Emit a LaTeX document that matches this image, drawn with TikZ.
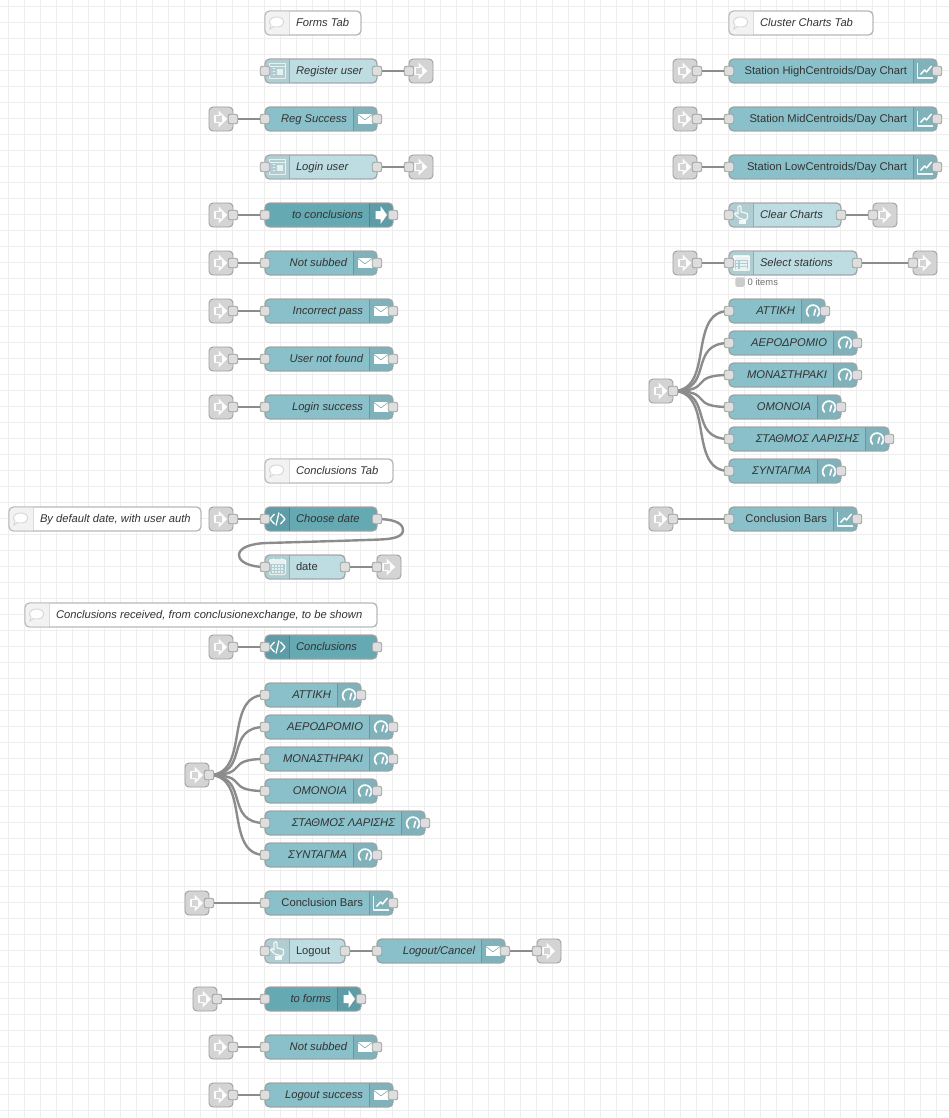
\documentclass[tikz,border=0pt]{standalone}
\usepackage{fontspec}
\setmainfont{Liberation Sans}
\usetikzlibrary{backgrounds}
\definecolor{cmid}{HTML}{8AC0C9}
\definecolor{clight}{HTML}{BDDDE2}
\definecolor{cdark}{HTML}{65A9B3}
\definecolor{cgrid}{HTML}{EEEEEE}
\definecolor{cwire}{HTML}{8C8C8C}
\definecolor{cstroke}{HTML}{A0A0A0}
\definecolor{ctext}{HTML}{333333}
\tikzset{
  x=1pt,y=-1pt,
  boxshape/.style={draw=cstroke,line width=0.9pt,rounded corners=4.5pt,inner sep=0pt,outer sep=0pt,minimum height=24pt},
  portbox/.style={draw=cstroke,fill=black!13,line width=0.9pt,rounded corners=2.2pt,inner sep=0pt,outer sep=0pt,minimum width=9.5pt,minimum height=9.5pt},
  linkbox/.style={draw=black!38,fill=black!17,line width=0.9pt,rounded corners=4pt,inner sep=0pt,outer sep=0pt,minimum width=24pt,minimum height=24pt},
  notebox/.style={draw=black!30,fill=white,line width=0.9pt,rounded corners=4.5pt,inner sep=0pt,outer sep=0pt,minimum height=24pt},
  labeltext/.style={inner sep=0pt,outer sep=0pt,text=ctext,font=\fontsize{11.2}{13}\selectfont},
  wirepath/.style={draw=cwire,line width=2.4pt,line cap=round},
  wirestyle/.style={wirepath},
  icn/.style={white,line width=1pt,line join=round}
}
% icons: drawn around the origin of a shifted scope
\newcommand\icenv{\fill[white] (-7.5,-5.3) rectangle (7.5,5.3);\draw[cmid!88!black,line width=.6pt] (-7.5,-4.8) -- (0,.8) -- (7.5,-4.8);}
\newcommand\icarrow{\fill[white] (-5.5,-4) -- (-.5,-4) -- (-.5,-9) -- (6,0) -- (-.5,9) -- (-.5,4) -- (-5.5,4) -- cycle;}
\newcommand\icgauge{\draw[icn,line width=1.7pt,line cap=round] (-4.5,5) arc (135:405:6.4);\draw[icn,line width=1.6pt] (2.6,-2.2) -- (.9,4.5);}
\newcommand\icchart{\draw[icn,white!85!cmid,line width=1.1pt] (-7.5,-7.5) -- (-7.5,7) -- (8,7);\draw[icn,line width=1.5pt] (-4.5,3.5) -- (-.5,-1) -- (1.5,1) -- (6.5,-5);}
\newcommand\iccode{\draw[icn,line width=1.3pt] (-3,-5) -- (-7.5,0) -- (-3,5) (3,-5) -- (7.5,0) -- (3,5) (1.5,-6.5) -- (-1.5,6.5);}
\newcommand\icform{\begin{scope}[opacity=.7]\draw[icn] (-8,-7.5) rectangle (8,7.5) (-8,-4) -- (8,-4);\fill[white] (-1,-2) rectangle (5,4);\draw[icn] (-5,-2) -- (-2.5,-2) (-5,1) -- (-2.5,1) (-5,4) -- (-2.5,4);\end{scope}}
\newcommand\iccal{\begin{scope}[opacity=.7]\draw[icn,rounded corners=1pt] (-8,-7.5) rectangle (8,7.5);\fill[white] (-8,-7.5) rectangle (8,-3.5);\draw[icn] (-4,-9.5) -- (-4,-7) (4,-9.5) -- (4,-7);\foreach \ia in {-4.5,-1.5,1.5,4.5}\foreach \ib in {-1,2,5}\fill[white] (\ia-.7,\ib-.7) rectangle (\ia+.7,\ib+.7);\end{scope}}
\newcommand\iclist{\begin{scope}[opacity=.75]\draw[icn,line width=1.1pt] (-7.5,-7) rectangle (7.5,7);\fill[white] (-7.5,-7) rectangle (7.5,-3.5);\foreach \ib in {-1,2,5}{\fill[white] (-5.5,\ib-.7) rectangle (-3.5,\ib+.7);\fill[white] (-2,\ib-.7) rectangle (5.5,\ib+.7);}\end{scope}}
\newcommand\ichand{\begin{scope}[opacity=.85]\draw[icn,line width=1.2pt] (-2.5,3) -- (-7,-1) -- (-5.5,-2.5) -- (-3.5,-1) -- (-3.5,-8) .. controls (-3,-10) and (-.5,-10) .. (-.5,-8) -- (-.5,-3) -- (6,-1.5) -- (6,3) -- (4,5) -- cycle;\fill[white] (-2.5,5) rectangle (4.5,8.5);\end{scope}}
\newcommand\iclink{\begin{scope}[opacity=.95]\draw[icn,line width=1.2pt] (-1,-3.5) -- (-6,-3.5) -- (-6,3.5) -- (-1,3.5);\fill[white] (-2.5,-3.5) -- (-2.5,-8.5) -- (6,0) -- (-2.5,8.5) -- (-2.5,3.5) -- (1,3.5) -- (1,-3.5) -- cycle;\end{scope}}
\newcommand\icnote{\draw[draw=black!16,fill=white,line width=.9pt] (0,-6) .. controls (9,-6) and (9,4) .. (0,4) .. controls (-1.5,4) and (-3,4) .. (-4,3.6) -- (-7,6) -- (-6,2) .. controls (-9.5,-1) and (-7,-6) .. (0,-6) -- cycle;}

% \flownode{id}{xl}{xr}{y}{fill}{side L/R}{icon}{label}
\newcommand\flownode[8]{%
  \pgfmathsetmacro\nw{#3-#2}\pgfmathsetmacro\nc{(#2+#3)/2}%
  \node[boxshape,fill=#5,minimum width=\nw pt] (#1) at (\nc,#4) {};
  \begin{scope}
    \clip[rounded corners=4.5pt] (#2,#4-12) rectangle (#3,#4+12);
    \if#6L\pgfmathsetmacro\ba{#2}\pgfmathsetmacro\bb{#2+24}\else\pgfmathsetmacro\ba{#3-24}\pgfmathsetmacro\bb{#3}\fi
    \fill[#5!93!black] (\ba,#4-12) rectangle (\bb,#4+12);
    \if#6L\draw[#5!78!black,line width=.7pt] (\bb,#4-12) -- (\bb,#4+12);\else\draw[#5!78!black,line width=.7pt] (\ba,#4-12) -- (\ba,#4+12);\fi
  \end{scope}
  \draw[draw=cstroke,line width=0.9pt,rounded corners=4.5pt] (#2,#4-12) rectangle (#3,#4+12);
  \if#6L\pgfmathsetmacro\icx{#2+12.5}\else\pgfmathsetmacro\icx{#3-12}\fi
  \begin{scope}[shift={(\icx,#4)}]#7\end{scope}
  \pgfmathsetmacro\tpy{#4+3.9}%
  \if#6L\pgfmathsetmacro\tpx{#2+31}\node[labeltext,anchor=base west] (#1-t) at (\tpx,\tpy) {\itshape #8};
  \else\pgfmathsetmacro\tpx{#3-30}\node[labeltext,anchor=base east] (#1-t) at (\tpx,\tpy) {\itshape #8};\fi
  \node[portbox] (#1-i) at (#2,#4) {};
  \node[portbox] (#1-o) at (#3,#4) {};
}
\newcommand\linknode[4]{% id, xl, y, side of port (i/o)
  \pgfmathsetmacro\nc{#2+12}%
  \node[linkbox] (#1) at (\nc,#3) {};
  \begin{scope}[shift={(\nc,#3)}]\iclink\end{scope}
  \if#4o\pgfmathsetmacro\px{#2+24}\else\pgfmathsetmacro\px{#2}\fi
  \node[portbox] (#1-#4) at (\px,#3) {};
}
\newcommand\notenode[5]{% id, xl, xr, y, text
  \pgfmathsetmacro\nw{#3-#2}\pgfmathsetmacro\nc{(#2+#3)/2}%
  \node[notebox,minimum width=\nw pt] (#1) at (\nc,#4) {};
  \begin{scope}
    \clip[rounded corners=4.5pt] (#2,#4-12) rectangle (#3,#4+12);
    \fill[black!5] (#2,#4-12) rectangle (#2+24,#4+12);
    \draw[black!14,line width=.7pt] (#2+24,#4-12) -- (#2+24,#4+12);
  \end{scope}
  \draw[draw=black!30,line width=0.9pt,rounded corners=4.5pt] (#2,#4-12) rectangle (#3,#4+12);
  \pgfmathsetmacro\icx{#2+12}\begin{scope}[shift={(\icx,#4)}]\icnote\end{scope}
  \pgfmathsetmacro\tpx{#2+31}\pgfmathsetmacro\tpy{#4+3.9}\node[labeltext,anchor=base west] (#1-t) at (\tpx,\tpy) {\itshape #5};
}
\newcommand\wire[2]{\begin{scope}[on background layer]\draw[wirestyle] (#1.center) -- (#2.center);\end{scope}}
\newcommand\fan[2]{\begin{scope}[on background layer]\draw[wirestyle] (#1.center) .. controls +(42,0) and +(-42,0) .. (#2.center);\end{scope}}
\begin{document}
\begin{tikzpicture}
\useasboundingbox (0,0) rectangle (949,1118);
\begin{scope}[on background layer]
  \fill[white] (0,0) rectangle (949,1118);
  \foreach \k in {0,...,59}{\draw[cgrid,line width=.9pt] (8.5+16*\k,0) -- (8.5+16*\k,1118);}
  \foreach \k in {0,...,69}{\draw[cgrid,line width=.9pt] (0,6.6+16*\k) -- (949,6.6+16*\k);}
\end{scope}

% ---- left column
\notenode{nForms}{265}{361}{23}{Forms Tab}
\flownode{reg}{265}{377}{71}{clight}{L}{\icform}{Register user}
\linknode{lreg}{409}{71}{i}
\wire{reg-o}{lreg-i}
\linknode{lrs}{209}{119}{o}
\flownode{rs}{265}{377}{119}{cmid}{R}{\icenv}{Reg Success}
\wire{lrs-o}{rs-i}
\flownode{login}{265}{377}{167}{clight}{L}{\icform}{Login user}
\linknode{llogin}{409}{167}{i}
\wire{login-o}{llogin-i}
\linknode{ltc}{209}{215}{o}
\flownode{tc}{265}{393}{215}{cdark}{R}{\icarrow}{to conclusions}
\wire{ltc-o}{tc-i}
\linknode{lns}{209}{263}{o}
\flownode{ns}{265}{377}{263}{cmid}{R}{\icenv}{Not subbed}
\wire{lns-o}{ns-i}
\linknode{lip}{209}{311}{o}
\flownode{ip}{265}{393}{311}{cmid}{R}{\icenv}{Incorrect pass}
\wire{lip-o}{ip-i}
\linknode{lunf}{209}{359}{o}
\flownode{unf}{265}{393}{359}{cmid}{R}{\icenv}{User not found}
\wire{lunf-o}{unf-i}
\linknode{lls}{209}{407}{o}
\flownode{ls}{265}{393}{407}{cmid}{R}{\icenv}{Login success}
\wire{lls-o}{ls-i}
\notenode{nConc}{265}{393}{471}{Conclusions Tab}
\notenode{nDef}{9}{201}{519}{By default date, with user auth}
\linknode{lcd}{209}{519}{o}
\flownode{cd}{265}{377}{519}{cdark}{L}{\iccode}{Choose date}
\wire{lcd-o}{cd-i}
\flownode{date}{265}{345}{567}{clight}{L}{\iccal}{\upshape date}
\linknode{ldate}{377}{567}{i}
\wire{date-o}{ldate-i}
\begin{scope}[on background layer]
  \coordinate (loopa) at (403,530);
  \coordinate (loopb) at (380,539.5);
  \coordinate (loopc) at (267,543);
  \coordinate (loopd) at (239,555);
  \draw[wirestyle] (cd-o.center) .. controls (391,519) and (403,522) .. (loopa) .. controls (403,537) and (393,539) .. (loopb) .. controls (340,541) and (300,542) .. (loopc) .. controls (250,543.5) and (239,548) .. (loopd) .. controls (239,562) and (250,567) .. (date-i.center);
\end{scope}
\notenode{nRecv}{25}{377}{615}{Conclusions received, from conclusionexchange, to be shown}
\linknode{lconc}{209}{647}{o}
\flownode{conc}{265}{377}{647}{cdark}{L}{\iccode}{Conclusions}
\wire{lconc-o}{conc-i}
\linknode{lg}{185}{775}{o}
\flownode{ga}{265}{361}{695}{cmid}{R}{\icgauge}{ΑΤΤΙΚΗ}
\flownode{gb}{265}{393}{727}{cmid}{R}{\icgauge}{ΑΕΡΟΔΡΟΜΙΟ}
\flownode{gc}{265}{393}{759}{cmid}{R}{\icgauge}{ΜΟΝΑΣΤΗΡΑΚΙ}
\flownode{gd}{265}{377}{791}{cmid}{R}{\icgauge}{ΟΜΟΝΟΙΑ}
\flownode{ge}{265}{425}{823}{cmid}{R}{\icgauge}{ΣΤΑΘΜΟΣ ΛΑΡΙΣΗΣ}
\flownode{gf}{265}{377}{855}{cmid}{R}{\icgauge}{ΣΥΝΤΑΓΜΑ}
\foreach \tgt in {ga,gb,gc,gd,ge,gf}{\fan{lg-o}{\tgt-i}}
\linknode{lbars}{185}{903}{o}
\flownode{bars}{265}{393}{903}{cmid}{R}{\icchart}{\upshape Conclusion Bars}
\wire{lbars-o}{bars-i}
\flownode{logout}{265}{345}{951}{clight}{L}{\ichand}{\upshape Logout}
\flownode{lc}{377}{505}{951}{cmid}{R}{\icenv}{Logout/Cancel}
\linknode{llc}{537}{951}{i}
\wire{logout-o}{lc-i}
\wire{lc-o}{llc-i}
\linknode{ltf}{193}{999}{o}
\flownode{tf}{265}{361}{999}{cdark}{R}{\icarrow}{to forms}
\wire{ltf-o}{tf-i}
\linknode{lns2}{209}{1047}{o}
\flownode{ns2}{265}{377}{1047}{cmid}{R}{\icenv}{Not subbed}
\wire{lns2-o}{ns2-i}
\linknode{lout}{209}{1095}{o}
\flownode{out}{265}{393}{1095}{cmid}{R}{\icenv}{Logout success}
\wire{lout-o}{out-i}

% ---- right column
\notenode{nCluster}{729}{873}{23}{Cluster Charts Tab}
\linknode{lhi}{673}{71}{o}
\flownode{hi}{729}{937}{71}{cmid}{R}{\icchart}{\upshape Station HighCentroids/Day Chart}
\wire{lhi-o}{hi-i}
\linknode{lmd}{673}{119}{o}
\flownode{md}{729}{937}{119}{cmid}{R}{\icchart}{\upshape Station MidCentroids/Day Chart}
\wire{lmd-o}{md-i}
\linknode{llw}{673}{167}{o}
\flownode{lw}{729}{937}{167}{cmid}{R}{\icchart}{\upshape Station LowCentroids/Day Chart}
\wire{llw-o}{lw-i}
\flownode{clr}{729}{841}{215}{clight}{L}{\ichand}{Clear Charts}
\linknode{lclr}{873}{215}{i}
\wire{clr-o}{lclr-i}
\linknode{lsel}{673}{263}{o}
\flownode{sel}{729}{857}{263}{clight}{L}{\iclist}{Select stations}
\linknode{lsel2}{913}{263}{i}
\wire{lsel-o}{sel-i}
\wire{sel-o}{lsel2-i}
\node[draw=none,fill=black!20,rounded corners=2pt,minimum width=9.5pt,minimum height=9.5pt,inner sep=0pt] (stdot) at (740,282) {};
\node[anchor=west,inner sep=0pt,text=black!55,font=\fontsize{9.4}{11}\selectfont] (sttxt) at (747.5,282) {0 items};
\linknode{lh}{649}{391}{o}
\flownode{ha}{729}{825}{311}{cmid}{R}{\icgauge}{ΑΤΤΙΚΗ}
\flownode{hb}{729}{857}{343}{cmid}{R}{\icgauge}{ΑΕΡΟΔΡΟΜΙΟ}
\flownode{hc}{729}{857}{375}{cmid}{R}{\icgauge}{ΜΟΝΑΣΤΗΡΑΚΙ}
\flownode{hd}{729}{841}{407}{cmid}{R}{\icgauge}{ΟΜΟΝΟΙΑ}
\flownode{he}{729}{889}{439}{cmid}{R}{\icgauge}{ΣΤΑΘΜΟΣ ΛΑΡΙΣΗΣ}
\flownode{hf}{729}{841}{471}{cmid}{R}{\icgauge}{ΣΥΝΤΑΓΜΑ}
\foreach \tgt in {ha,hb,hc,hd,he,hf}{\fan{lh-o}{\tgt-i}}
\linknode{lb2}{649}{519}{o}
\flownode{b2}{729}{857}{519}{cmid}{R}{\icchart}{\upshape Conclusion Bars}
\wire{lb2-o}{b2-i}
\end{tikzpicture}
\end{document}
